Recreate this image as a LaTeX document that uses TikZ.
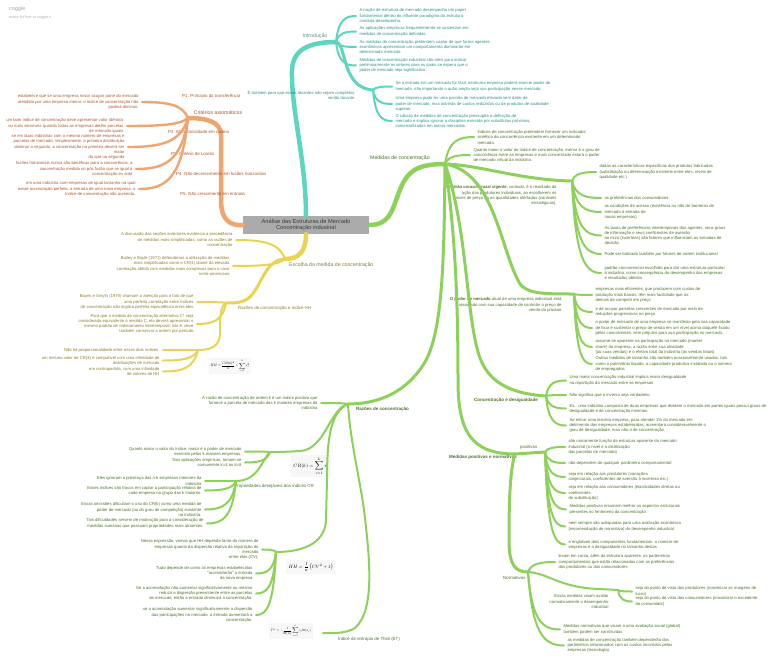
\documentclass[tikz,border=0pt]{standalone}
\usepackage{fontspec}
\setmainfont{Liberation Sans}
\usetikzlibrary{calc}
\definecolor{tealL}{HTML}{5CD6BF}
\definecolor{tealT}{HTML}{2F9187}
\definecolor{tealG}{HTML}{5F8F89}
\definecolor{oraL}{HTML}{F0A56E}
\definecolor{oraT}{HTML}{A9592F}
\definecolor{yelL}{HTML}{EBD352}
\definecolor{yelT}{HTML}{8C7D2D}
\definecolor{grnL}{HTML}{8CD25A}
\definecolor{grnT}{HTML}{4B7328}
\definecolor{cenF}{HTML}{ABABAB}
\definecolor{cenT}{HTML}{3C3C3C}
\newcommand\mlink[3][]{\draw[#1] let \p1=(#2), \p2=(#3) in (\p1) .. controls ({\x1+0.12*(\x2-\x1)},{0.15*(\y1)+0.85*(\y2)}) and ({\x1+0.45*(\x2-\x1)},{\y2}) .. (\p2);}
\begin{document}
\begin{tikzpicture}[x=1pt,y=-1pt,
  lf/.style={font=\fontsize{4.2}{5.2}\selectfont, inner sep=0pt, outer xsep=3.5pt, outer ysep=0pt},
  L/.style={lf, anchor=west, align=left},
  R/.style={lf, anchor=east, align=right},
  lab1/.style={font=\fontsize{5.2}{6}\selectfont, inner sep=0pt},
  lab2/.style={font=\fontsize{4.4}{5.3}\selectfont, inner sep=0pt, anchor=west},
  labB/.style={font=\fontsize{4.5}{5.3}\selectfont\bfseries, inner sep=0pt, anchor=west, text=grnT},
  tt/.style={text=tealT}, ot/.style={text=oraT}, yt/.style={text=yelT}, gt/.style={text=grnT},
  tmain/.style={draw=tealL, line width=4.5pt, line cap=round},
  tsub/.style={draw=tealL, line width=3pt, line cap=round},
  tleaf/.style={draw=tealL, line width=2pt, line cap=round},
  omain/.style={draw=oraL, line width=4.5pt, line cap=round},
  oleaf/.style={draw=oraL, line width=2.4pt, line cap=round},
  ymain/.style={draw=yelL, line width=4.5pt, line cap=round},
  ysub/.style={draw=yelL, line width=3pt, line cap=round},
  yleaf/.style={draw=yelL, line width=2pt, line cap=round},
  gmain/.style={draw=grnL, line width=4.5pt, line cap=round},
  gsub/.style={draw=grnL, line width=3pt, line cap=round},
  gleaf/.style={draw=grnL, line width=2pt, line cap=round},
  formula/.style={inner sep=4pt, fill=black!3, font=\fontsize{8}{9}\selectfont}
]
\useasboundingbox (0,0) rectangle (768,666);
\fill[white] (0,0) rectangle (768,666);

% header
\node[anchor=west, inner sep=0pt, text=black!35, font=\fontsize{5.5}{6}\selectfont\itshape] (hd1) at (9,9) {coggle};
\node[anchor=west, inner sep=0pt, text=black!30, font=\fontsize{3.8}{4.5}\selectfont] (hd2) at (9,18) {made for free at coggle.it};

% central node
\node[fill=cenF, text=cenT, minimum width=126pt, minimum height=18pt, inner sep=0pt, align=center,
      font=\fontsize{5.7}{6.6}\selectfont] (c) at (306,225) {Análise das Estruturas de Mercado\\Concentração industrial};

%================ TEAL =================
\coordinate (jt) at (336,42);
\coordinate (jt2) at (373,90);
\draw[tmain] (c.north) .. controls (306,160) and (291,110) .. (292,70) .. controls (293,50) and (308,42) .. (jt);
\node[lab1, text=tealG] (intro) at (315,36) {Introdução};
\draw[tsub] (jt) .. controls (347,44) and (341,88) .. (jt2);
\node[L,tt] (t1) at (356,16) {A noção de estrutura de mercado desempenha um papel\\fundamental dentro do influente paradigma da estrutura\\conduta-desempenho.};
\node[L,tt] (t2) at (356,31.5) {As aplicações empíricas frequentemente se sustentam em\\medidas de concentração definidas.};
\node[L,tt] (t3) at (356,47) {As medidas de concentração pretendem captar de que forma agentes\\econômicos apresentam um comportamento dominante em\\determinado mercado.};
\node[L,tt] (t4) at (356,65.5) {Medidas de concentração industrial são úteis para indicar\\preliminarmente os setores para os quais se espera que o\\poder de mercado seja significativo.};
\foreach \k in {t1,t2,t3,t4} {\mlink[tleaf]{jt}{\k.west}}
\node[R,tt] (tl) at (358,95.5) {É também para que esses tocantes não sejam completos\\senão tocante};
\node[L,tt] (t5) at (392,86.5) {Se a entrada em um mercado for fácil, nenhuma empresa poderá exercer poder de\\mercado, não importando o quão ampla seja sua participação nesse mercado.};
\node[L,tt] (t6) at (392,104) {Uma empresa pode ter uma parcela de mercado elevada sem deter de\\poder de mercado, mas advinda de custos reduzidos ou de produtos de qualidade\\superior.};
\node[L,tt] (t7) at (392,121) {O cálculo de medidas de concentração pressupõe a definição de\\mercado e implica ignorar a disciplina exercida por substitutos próximos,\\comercializados em outros mercados.};
\foreach \k in {t5,t6,t7} {\mlink[tleaf]{jt2}{\k.west}}

%================ ORANGE =================
\coordinate (jo) at (188,118);
\draw[omain] (c.west) .. controls (230,226) and (221,220) .. (221,200) -- (221,135) .. controls (221,121) and (205,118) .. (jo);
\node[lab1, text=oraT] (crit) at (218,113) {Critérios axiomáticos};
\node[lab2, ot] (P1) at (182,96) {P1. Princípio da transferência};
\node[lab2, ot] (P2) at (168,132) {P2. Monotonicidade em cadeia};
\node[lab2, ot] (P3) at (171,154) {P3. Critério de Lorenz};
\node[lab2, ot] (P4) at (176,174) {P4. Não decrescimento em fusões horizontais};
\node[lab2, ot] (P5) at (180,194) {P5. Não crescimento em entrada};
\node[R,ot] (o1) at (142,102) {estabelece que se uma empresa maior ocupar parte do mercado\\atendido por uma empresa menor, o índice de concentração não\\poderá diminuir.};
\node[R,ot] (o2) at (127,126) {um bom índice de concentração deve apresentar valor idêntico\\ou mais sensíveis quando todas as empresas detêm parcelas\\de mercado iguais};
\node[R,ot] (o3) at (128,147) {se em duas indústrias com o mesmo número de empresas e\\parcelas de mercado, simplesmente, a primeira distribuição\\dominar a segunda, a concentração na primeira deverá ser\\maior\\do que na segunda};
\node[R,ot] (o4) at (136,169) {fusões horizontais nunca são benéficas para a concorrência, a\\concentração medida no pós fusão que se igual à\\concentração ex ante};
\node[R,ot] (o5) at (139,189) {em uma indústria com empresas de igual tamanho na qual\\existe acumulação perfeita, a entrada de uma nova empresa, o\\índice de concentração não aumenta.};
\foreach \k in {o1,o2,o3,o4,o5} {\mlink[oleaf]{jo}{\k.east}}

%================ YELLOW =================
\coordinate (jy) at (285,259);
\coordinate (jy2) at (226,303);
\coordinate (jy3) at (198,350);
\draw[ymain] (c.south) .. controls (306,250) and (300,259) .. (jy);
\node[lab1, text=yelT, anchor=west] (esc) at (289,265) {Escolha da medida de concentração};
\node[R,yt] (y1) at (236,240) {A discussão das seções anteriores evidencia a precedência\\de medidas mais simplificadas, como as razões de\\concentração};
\node[R,yt] (y2) at (233,266) {Bailey e Boyle (1971) defenderam a utilização de medidas\\mais simplificadas como o CR(4) diante da elevada\\correlação obtida com medidas mais complexas para o caso\\norte-americano};
\foreach \k in {y1,y2} {\mlink[yleaf]{jy}{\k.east}}
\draw[ysub] (jy) .. controls (265,260) and (262,285) .. (250,297) .. controls (243,303) and (235,303) .. (jy2);
\node[lab2, yt] (rhh) at (238,308) {Razões de concentração e índice HH};
\node[R,yt] (y3) at (197,302) {Boyes e Smyth (1979) chamam a atenção para o fato de que\\uma perfeita correlação entre índices\\de concentração não implica perfeita equivalência entre eles};
\node[R,yt] (y4) at (197,324) {Para que a medida de concentração alternativa C* seja\\considerada equivalente à medida C, ela deverá apresentar o\\mesmo padrão de ordenamento intertemporal; isto é, deve\\também conservar a ordem por período};
\foreach \k in {y3,y4} {\mlink[yleaf]{jy2}{\k.east}}
\draw[yleaf] (jy2) .. controls (220,306) and (220,318) .. (220,333) .. controls (220,347) and (210,350) .. (jy3);
\node[R,yt] (y5) at (163,350) {Não há proporcionalidade entre esses dois índices.};
\node[R,yt] (y6) at (163,360.5) {um mesmo valor de CR(4) é compatível com uma infinidade de\\distribuições de mercado};
\node[R,yt] (y7) at (163,371.5) {em contrapartida, com uma infinidade\\de valores de HH};
\foreach \k in {y5,y6,y7} {\mlink[yleaf]{jy3}{\k.east}}
\node[formula, scale=0.42] (fhy) at (230,366) {$\displaystyle HH=\frac{CR(k)^2}{k}+\sum_{i=1}^{k} s_i^2$};

%================ GREEN =================
\coordinate (jg) at (445,164);
\draw[gmain] (c.east) .. controls (390,225) and (392,210) .. (398,195) .. controls (406,172) and (415,164) .. (jg);
\node[lab1, text=grnT] (med) at (400,158) {Medidas de concentração};
\node[L,gt] (g1) at (474,137) {Índices de concentração pretendem fornecer um indicador\\sintético da concorrência existente em um determinado\\mercado.};
\node[L,gt] (g2) at (470,155) {Quanto maior o valor do índice de concentração, menor é o grau de\\concorrência entre as empresas e mais concentrado estará o poder\\de mercado virtual da indústria.};
\foreach \k in {g1,g2} {\mlink[gleaf]{jg}{\k.west}}

% padrão concorrencial
\coordinate (jpc) at (572,181);
\draw[gsub] (jg) .. controls (480,165) and (520,180) .. (jpc);
\node[R,gt] (g3) at (560,195.5) {\textbf{O padrão concorrencial vigente}, contudo, é o resultado da\\ação dos produtores individuais, ao escolherem os\\níveis de preço ou as quantidades ofertadas (variáveis\\estratégicas).};
\node[L,gt] (pc1) at (596,172) {dadas as características específicas dos produtos fabricados\\(substituição ou diferenciação existente entre eles, níveis de\\qualidade etc.)};
\node[L,gt] (pc2) at (601,198) {as preferências dos consumidores};
\node[L,gt] (pc3) at (601,212) {as condições de acesso (existência ou não de barreiras de\\mercado à entrada de\\novas empresas)};
\node[L,gt] (pc4) at (601,235.5) {As taxas de preferências intertemporais dos agentes, seus graus\\de informação e seus coeficientes de aversão\\ao risco (incerteza) são fatores que influenciam as tomadas de\\decisão};
\node[L,gt] (pc5) at (601,254) {Pode ser balizado também por fatores de ordem institucional};
\node[L,gt] (pc6) at (601,273) {padrão concorrencial escolhido para dar uma estrutura particular\\à indústria, como consequência do desempenho das empresas\\e resultados obtidos.};
\foreach \k in {pc1,pc2,pc3,pc4,pc5,pc6} {\mlink[gleaf]{jpc}{\k.west}}

% poder de mercado
\coordinate (jpm) at (574,294);
\draw[gsub] (jg) .. controls (495,172) and (500,250) .. (520,284) .. controls (528,294) and (545,294) .. (jpm);
\node[R,gt] (g4) at (565,305) {\textbf{O poder de mercado} atual de uma empresa individual está\\associado com sua capacidade de controlar o preço de\\venda do produto};
\node[L,gt] (pm1) at (592,295) {empresas mais eficientes, que produzem com custos de\\produção mais baixos, têm mais facilidade que os\\demais de competir em preço};
\node[L,gt] (pm2) at (592,312) {e de ocupar parcelas crescentes de mercado por meio de\\reduções progressivas no preço};
\node[L,gt] (pm3) at (592,328) {o poder de mercado de uma empresa se manifesta pela sua capacidade\\de fixar e sustentar o preço de venda em um nível acima daquele fixado\\pelos concorrentes, sem prejuízo para sua participação no mercado.};
\node[L,gt] (pm4) at (592,347) {assume-se aparente na participação no mercado (market\\share) da empresa, a razão entre sua atividade\\(ou suas vendas) e o efetivo total da indústria (as vendas totais)};
\node[L,gt] (pm5) at (592,364) {Outras medidas de tamanho são também ocasionalmente usadas, tais\\como o patrimônio líquido, a capacidade produtiva instalada ou o número\\de empregados};
\foreach \k in {pm1,pm2,pm3,pm4,pm5} {\mlink[gleaf]{jpm}{\k.west}}

% concentração e desigualdade
\coordinate (jcd) at (546,396);
\draw[gsub] (jg) .. controls (468,230) and (466,320) .. (480,358) .. controls (490,385) and (515,394) .. (jcd);
\node[labB] (cdl) at (474,400) {Concentração e desigualdade};
\node[L,gt] (cd1) at (566,380.5) {Uma maior concentração industrial implica maior desigualdade\\na repartição do mercado entre as empresas};
\node[L,gt] (cd2) at (566,395) {Não significa que o inverso seja verdadeiro};
\node[L,gt] (cd3) at (566,408.5) {Ex.: uma indústria composta de duas empresas que dividem o mercado em partes iguais possui graus de\\desigualdade e de concentração mínimos.};
\node[L,gt] (cd4) at (566,425.5) {Se entrar uma terceira empresa, para atender 1\% do mercado em\\detrimento das empresas estabelecidas, aumentará consideravelmente o\\grau de desigualdade, mas não o de concentração.};
\foreach \k in {cd1,cd2,cd3,cd4} {\mlink[gleaf]{jcd}{\k.west}}

% medidas positivas e normativas
\coordinate (jm) at (515,454);
\coordinate (jp) at (545,452);
\coordinate (jn) at (528,572);
\coordinate (je) at (618,590);
\draw[gsub] (jg) .. controls (455,230) and (458,300) .. (458,380) .. controls (458,430) and (470,454) .. (jm);
\node[labB] (mpn) at (449,457) {Medidas positivas e normativas};
\draw[gsub] (jm) -- (jp);
\node[lab2, gt] (pos) at (520,447) {positivas};
\node[L,gt] (p1) at (565,447) {são unicamente função da estrutura aparente do mercado\\industrial (o nível e a distribuição\\das parcelas de mercado)};
\node[L,gt] (p2) at (565,463) {não dependem de qualquer parâmetro comportamental};
\node[L,gt] (p3) at (565,477) {seja em relação aos produtores (variações\\conjecturais, coeficientes de aversão à incerteza etc.)};
\node[L,gt] (p4) at (565,493) {seja em relação aos consumidores (elasticidades diretas ou\\coeficientes\\de substituição)};
\node[L,gt] (p5) at (566,509.5) {Medidas positivas resumem melhor os aspectos estruturais\\presentes no fenômeno da concentração};
\node[L,gt] (p6) at (565,526.5) {nem sempre são adequadas para uma avaliação econômica\\(recomendação de normativa) do desempenho industrial};
\node[L,gt] (p7) at (565,544.5) {e englobam dois componentes fundamentais: o número de\\empresas e a desigualdade no tamanho destas};
\foreach \k in {p1,p2,p3,p4,p5,p6,p7} {\mlink[gleaf]{jp}{\k.west}}
\draw[gsub] (jm) .. controls (510,470) and (509,500) .. (509,540) .. controls (509,565) and (515,572) .. (jn);
\node[lab2, gt] (nor) at (503,578) {Normativas};
\node[L,gt] (n1) at (555,562) {levam em conta, além da estrutura aparente, os parâmetros\\comportamentais que estão relacionados com as preferências\\dos produtores ou dos consumidores};
\draw[gleaf] (jn) .. controls (548,573) and (560,588) .. (600,589) -- (je);
\node[R,gt] (n2) at (612,601.5) {Essas medidas visam avaliar\\normativamente o desempenho\\industrial};
\node[L,gt] (e1) at (632,591.5) {seja do ponto de vista dos produtores (maximizar as margens de\\lucro)};
\node[L,gt] (e2) at (632,601.5) {seja do ponto de vista dos consumidores (maximizar o excedente\\do consumidor)};
\foreach \k in {e1,e2} {\mlink[gleaf]{je}{\k.west}}
\node[L,gt] (n3) at (560,629.5) {Medidas normativas que visam a uma avaliação social (global)\\também podem ser construídas};
\node[L,gt] (n4) at (564,645.5) {as medidas de concentração também dependerão dos\\parâmetros relacionados com os custos incorridos pelas\\empresas (tecnologia).};
\foreach \k in {n1,n3,n4} {\mlink[gleaf]{jn}{\k.west}}

% razões de concentração
\coordinate (jr) at (348,404);
\coordinate (jr2) at (270,452);
\coordinate (jr3) at (236,481);
\coordinate (jh) at (276,552);
\coordinate (jth) at (323,633);
\draw[gsub] (jg) .. controls (444,260) and (443,330) .. (425,362) .. controls (405,395) and (375,404) .. (jr);
\node[labB] (rcl) at (356,409) {Razões de concentração};
\node[R,gt] (r1) at (321,403) {A razão de concentração de ordem k é um índice positivo que\\fornece a parcela de mercado das k maiores empresas da\\indústria};
\mlink[gleaf]{jr}{r1.east}
\draw[gleaf] (jr) .. controls (330,408) and (325,450) .. (300,451) .. controls (285,452) and (275,452) .. (jr2);
\node[R,gt] (r2) at (245,451.5) {Quanto maior o valor do índice, maior é o poder de mercado\\exercido pelas k maiores empresas.};
\node[R,gt] (r3) at (245,462.5) {Nas aplicações empíricas, tomam-se\\comumente k=4 ou k=8};
\foreach \k in {r2,r3} {\mlink[gleaf]{jr2}{\k.east}}
\draw[gleaf] (jr2) .. controls (262,460) and (258,481) .. (jr3);
\node[lab2, gt, anchor=east] (rpl) at (314,486) {Propriedades desejáveis dos índices CR};
\node[R,gt] (r5) at (205,481) {Eles ignoram a presença das n-k empresas menores da\\indústria};
\node[R,gt] (r6) at (205,490.5) {Esses índices são fracos em captar a participação relativa de\\cada empresa no grupo das k maiores.};
\node[R,gt] (r7) at (205,509.5) {Essas omissões dificultam o uso do CR(k) como uma medida de\\poder de mercado (ou do grau de competição) existente\\na indústria.};
\node[R,gt] (r8) at (207,523.5) {Tais dificuldades servem de motivação para a consideração de\\medidas sumárias que possuam propriedades mais atraentes.};
\foreach \k in {r5,r6,r7,r8} {\mlink[gleaf]{jr3}{\k.east}}
\node[formula, scale=0.6] (fcr) at (311,466) {$\displaystyle CR(k)=\sum_{i=1}^{k} s_i$};
\draw[gleaf] (jr) .. controls (330,412) and (327,440) .. (327,480) -- (326,520) .. controls (325,545) and (300,552) .. (jh);
\node[R,gt] (h1) at (262,549.5) {Nessa expressão, vemos que HH depende tanto do número de\\empresas quanto da dispersão relativa da repartição do\\mercado\\entre elas (CV).};
\node[R,gt] (h2) at (256,573.5) {Tudo depende de como as empresas estabelecidas\\“acomodarão” a entrada\\da nova empresa};
\node[R,gt] (h3) at (256,593.5) {Se a acomodação não aumentar significativamente ou mesmo\\reduzir a dispersão preexistente entre as parcelas\\de mercado, então a entrada diminuirá a concentração.};
\node[R,gt] (h4) at (256,615) {se a acomodação aumentar significativamente a dispersão\\das participações no mercado, a entrada aumentará a\\concentração.};
\foreach \k in {h1,h2,h3,h4} {\mlink[gleaf]{jh}{\k.east}}
\node[formula, scale=0.58] (fhh) at (311,567) {$\displaystyle HH=\frac{1}{n}\left(CV^2+1\right)$};
\draw[gleaf] (jr) .. controls (350,440) and (360,480) .. (364,510) .. controls (370,560) and (375,610) .. (355,628) .. controls (345,634) and (333,633) .. (jth);
\node[lab2, gt] (thl) at (338,639) {Índice de entropia de Theil (ET)};
\node[formula, scale=0.42] (fth) at (291,631) {$\displaystyle T^n=-\frac{1}{\ln(n)}\sum_{i=1}^{n} s_i\ln(s_i)$};
\end{tikzpicture}
\end{document}
